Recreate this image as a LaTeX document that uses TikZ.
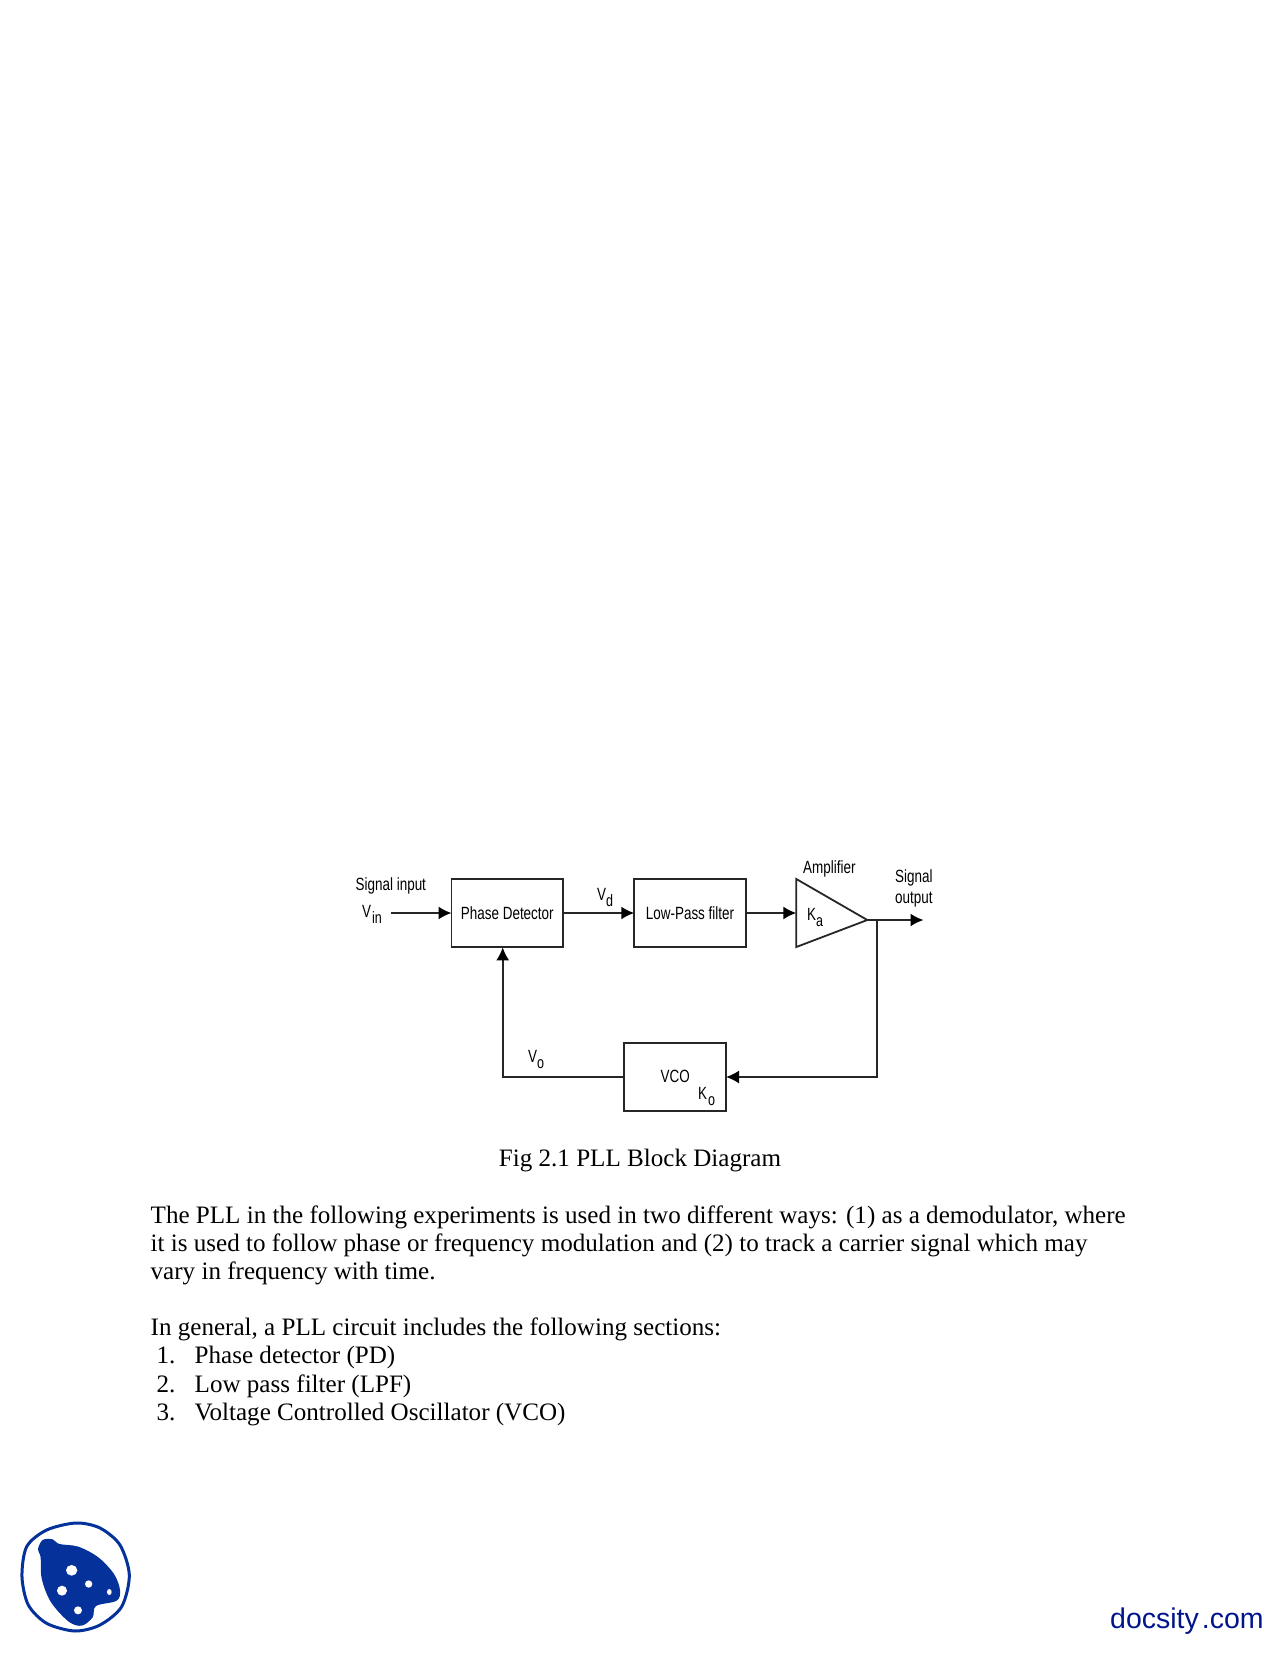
\documentclass[tikz,border=0pt]{standalone}
\usepackage{fontspec}
\usetikzlibrary{arrows.meta}
\setmainfont{Liberation Serif}
\newfontfamily\diagfont[FakeStretch=0.76]{Liberation Sans}
\newfontfamily\brandfont{Liberation Sans}
\definecolor{logoblue}{HTML}{05319B}
\definecolor{brandblue}{HTML}{00148C}
\newcommand{\lowtxt}[1]{\raisebox{-6pt}{\fontsize{16.5}{17}\selectfont #1}}
\tikzset{
  blockbox/.style={draw=black!85,line width=1.8pt,fill=white,inner sep=0pt,outer sep=0pt,minimum width=111.5pt,minimum height=68.5pt,font=\diagfont\fontsize{17.7}{20}\selectfont},
  difflabel/.style={inner sep=0pt,anchor=base west,font=\diagfont\fontsize{17.7}{20}\selectfont,text=black},
  bodyline/.style={inner sep=0pt,anchor=base west,font=\fontsize{25.08}{28}\selectfont,text=black},
  wire/.style={draw=black!85,line width=1.8pt},
  arrowwire/.style={wire,-{Latex[length=13pt,width=13pt,black]}}
}
\begin{document}
\begin{tikzpicture}[x=1pt,y=-1pt]
\useasboundingbox[fill=white] (0,0) rectangle (1280,1656);
% blocks
\node[blockbox] (pd) at (507.3,913) {Phase Detector};
\node[blockbox] (lpf) at (690,913) {Low-Pass filter};
\node[blockbox,minimum width=102pt] (vco) at (675,1077) {};
\coordinate (ampin) at (796.3,913);
\coordinate (amptop) at (796.3,879);
\coordinate (ampbot) at (796.3,947);
\coordinate (ampout) at (867.3,920);
\draw[wire,line join=miter] (amptop) -- (ampout) -- (ampbot) -- cycle;
% free ends and bends
\coordinate (vinstart) at (390.7,913);
\coordinate (outend) at (923.5,920);
\coordinate (branch) at (877.3,920);
\coordinate (pdin) at (502.7,947.3);
% connectors
\draw[arrowwire] (vinstart) -- (pd.west);
\draw[arrowwire] (pd.east) -- (lpf.west);
\draw[arrowwire] (lpf.east) -- (ampin);
\draw[arrowwire] (ampout) -- (outend);
\draw[arrowwire] (branch) |- (vco.east);
\draw[arrowwire] (vco.west) -| (pdin);
% diagram labels
\node[difflabel] (siginput) at (355.5,890) {Signal input};
\node[difflabel] (vin) at (362,917.5) {V\kern1pt\lowtxt{in}};
\node[difflabel] (vd) at (597,900.5) {V\lowtxt{d}};
\node[difflabel] (vo) at (528,1062) {V\lowtxt{o}};
\node[difflabel] (ampname) at (803,873) {Amplifier};
\node[difflabel] (sig1) at (895,882) {Signal};
\node[difflabel] (sig2) at (895,903) {output};
\node[difflabel] (ka) at (807,920.7) {K\lowtxt{a}};
\node[difflabel] (vconame) at (660.5,1082.7) {VCO};
\node[difflabel] (ko) at (698,1099.5) {K\kern1pt\lowtxt{o}};
% text
\node[bodyline,anchor=base] (caption) at (640,1166) {Fig 2.1 PLL Block Diagram};
\node[bodyline] (p1) at (150.5,1223) {The PLL in the following experiments is used in two different ways: (1) as a demodulator, where};
\node[bodyline] (p2) at (150.5,1251) {it is used to follow phase or frequency modulation and (2) to track a carrier signal which may};
\node[bodyline] (p3) at (150.5,1279) {vary in frequency with time.};
\node[bodyline] (p4) at (150.5,1335) {In general, a PLL circuit includes the following sections:};
\node[bodyline] (n1) at (156.5,1363) {1.};
\node[bodyline] (t1) at (194.5,1363) {Phase detector (PD)};
\node[bodyline] (n2) at (156.5,1392) {2.};
\node[bodyline] (t2) at (194.5,1392) {Low pass filter (LPF)};
\node[bodyline] (n3) at (156.5,1420) {3.};
\node[bodyline] (t3) at (194.5,1420) {Voltage Controlled Oscillator (VCO)};
% logo
\begin{scope}[shift={(0,1500)},x=0.3333pt,y=-0.3333pt]
\draw[draw=logoblue,line width=3pt,smooth cycle] plot coordinates {(228,69) (300,84) (360,135) (388,225) (365,320) (300,375) (225,393) (140,370) (85,315) (66,230) (80,140) (140,90)};
\fill[logoblue] plot[smooth cycle,tension=0.55] coordinates {(114,148) (128,120) (158,118) (178,132) (235,140) (295,172) (342,222) (360,270) (350,302) (288,318) (278,352) (245,377) (205,364) (152,305) (125,235) (122,172)};
\fill[white] (215,211) ellipse [x radius=17,y radius=16];
\fill[white] (266,252) circle [radius=11];
\fill[white] (186,272) circle [radius=15];
\fill[white] (234,331) circle [radius=12];
\fill[white] (328,276) ellipse [x radius=7,y radius=9];
\end{scope}
\node[inner sep=0pt,anchor=base west,text=brandblue,font=\brandfont\fontsize{28.5}{30}\selectfont] (brand) at (1110,1628) {docsity\kern3pt.com};
\end{tikzpicture}
\end{document}
